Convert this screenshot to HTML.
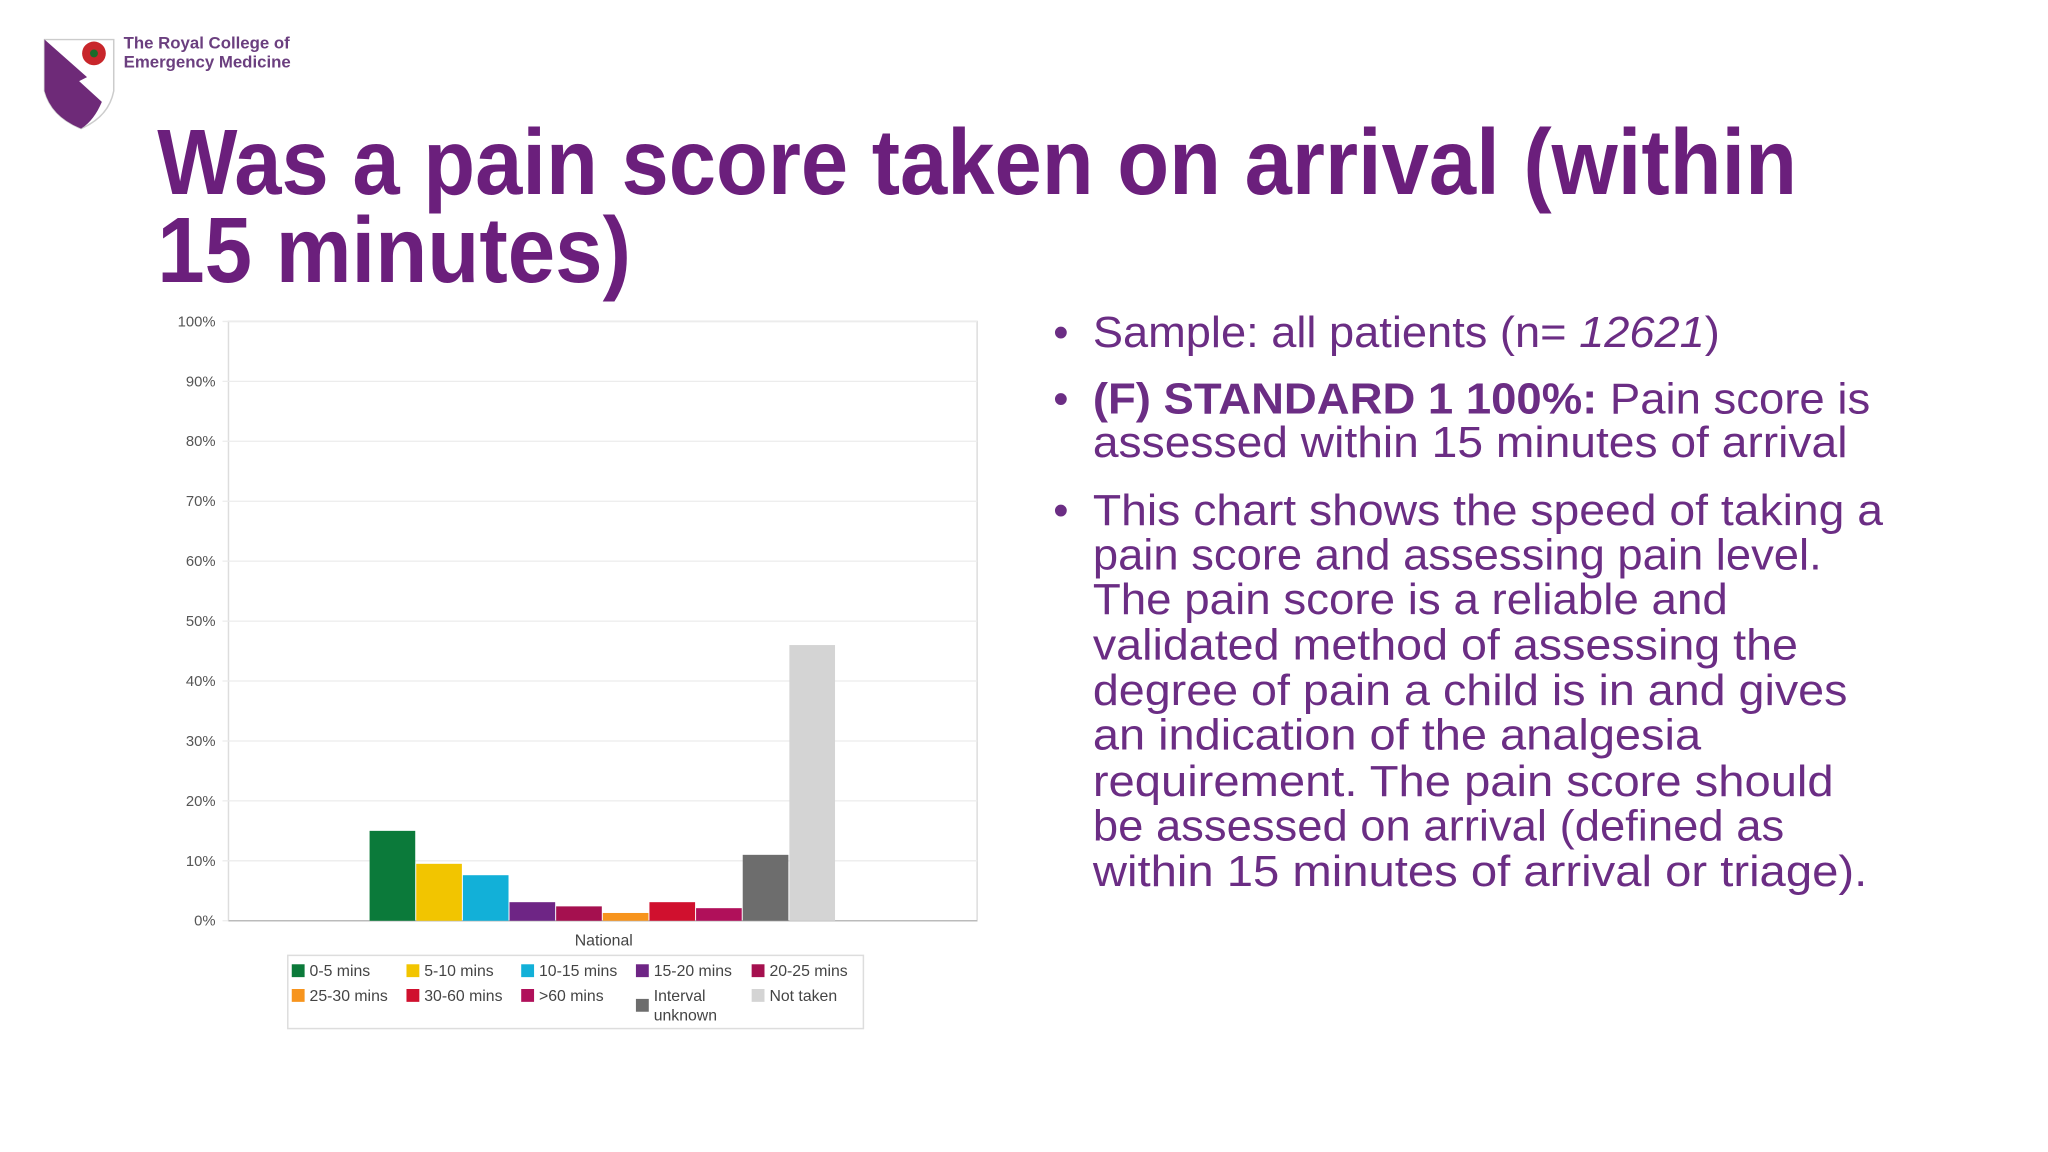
<!DOCTYPE html>
<html><head><meta charset="utf-8"><style>
html,body{margin:0;padding:0;background:#fff;}
svg{display:block;font-family:"Liberation Sans",sans-serif;}
</style></head><body>
<svg id="s" width="2048" height="1152" viewBox="0 0 2048 1152" xmlns="http://www.w3.org/2000/svg">
<g transform="scale(0.989)">
<g>
<path d="M45 40 L115 40 L115 92 Q110 118 82 130 Q52 118 45 92 Z" fill="#fff" stroke="#ccc" stroke-width="1.5"/>
<path d="M45 40 L88 78 L80 82 L103 103 Q95 122 82 130 Q52 118 45 92 Z" fill="#6e2a78"/>
<circle cx="95" cy="54" r="12" fill="#c8262b"/><circle cx="95" cy="54" r="4" fill="#1a6b2a"/>
<text x="125" y="49" font-size="17" font-weight="bold" fill="#6b3f7f">The Royal College of</text>
<text x="125" y="68" font-size="17" font-weight="bold" fill="#6b3f7f">Emergency Medicine</text>
</g>
<g fill="#6b1f7c" font-weight="bold" font-size="94">
<text x="159" y="196" textLength="1658" lengthAdjust="spacingAndGlyphs">Was a pain score taken on arrival (within</text>
<text x="159" y="285" textLength="479" lengthAdjust="spacingAndGlyphs">15 minutes)</text>
</g>
<g fill="#6b2d84" font-size="44">
<text x="1065" y="351">•</text><text x="1065" y="418">•</text><text x="1065" y="531">•</text>
<text x="1105" y="351" textLength="634" lengthAdjust="spacingAndGlyphs">Sample: all patients (n= <tspan font-style="italic">12621</tspan>)</text>
<text x="1105" y="418" textLength="786" lengthAdjust="spacingAndGlyphs"><tspan font-weight="bold">(F) STANDARD 1 100%:</tspan> Pain score is</text>
<text x="1105" y="462" textLength="763" lengthAdjust="spacingAndGlyphs">assessed within 15 minutes of arrival</text>
<text x="1105" y="531" textLength="799" lengthAdjust="spacingAndGlyphs">This chart shows the speed of taking a</text>
<text x="1105" y="576" textLength="737" lengthAdjust="spacingAndGlyphs">pain score and assessing pain level.</text>
<text x="1105" y="621" textLength="642" lengthAdjust="spacingAndGlyphs">The pain score is a reliable and</text>
<text x="1105" y="667" textLength="713" lengthAdjust="spacingAndGlyphs">validated method of assessing the</text>
<text x="1105" y="713" textLength="763" lengthAdjust="spacingAndGlyphs">degree of pain a child is in and gives</text>
<text x="1105" y="758" textLength="615" lengthAdjust="spacingAndGlyphs">an indication of the analgesia</text>
<text x="1105" y="805" textLength="749" lengthAdjust="spacingAndGlyphs">requirement.  The pain score should</text>
<text x="1105" y="850" textLength="699" lengthAdjust="spacingAndGlyphs">be assessed on arrival (defined as</text>
<text x="1105" y="896" textLength="783" lengthAdjust="spacingAndGlyphs">within 15 minutes of arrival or triage).</text>
</g>
<g id="chart"></g>
</g>
</svg>
<script>
const categories = ["0-5 mins","5-10 mins","10-15 mins","15-20 mins","20-25 mins","25-30 mins","30-60 mins",">60 mins","Interval unknown","Not taken"];
const values = [15, 9.5, 7.6, 3.1, 2.4, 1.3, 3.1, 2.1, 11, 46];
const colors = ["#0b7a3a","#f2c500","#12b0d8","#6e2585","#a5104f","#f7941d","#d0102e","#b0105a","#6d6d6d","#d4d4d4"];
const tickLabels = ["0%","10%","20%","30%","40%","50%","60%","70%","80%","90%","100%"];
const tickValues = [0,10,20,30,40,50,60,70,80,90,100];
const NS="http://www.w3.org/2000/svg";
const g=document.getElementById('chart');
const X0=231,X1=988,Y0=931,Y1=325;
const y=v=>Y0-(v/100)*(Y0-Y1);
function mk(t,a,txt){const e=document.createElementNS(NS,t);for(const k in a)e.setAttribute(k,a[k]);if(txt!=null)e.textContent=txt;g.appendChild(e);return e;}
const frame=mk('rect',{x:X0,y:Y1,width:X1-X0,height:Y0-Y1,fill:'#fff',stroke:'#ddd','stroke-width':1.5});


tickValues.forEach((t,i)=>{
  const l=mk('line',{x1:X0-6,x2:X1,y1:y(t),y2:y(t),stroke:'#ececec','stroke-width':1.3});
  
  
  const tx=mk('text',{x:218,y:y(t)+5,'font-size':15,fill:'#555','text-anchor':'end'},tickLabels[i]);
  
  
});
mk('line',{x1:X0,x2:X1,y1:Y0,y2:Y0,stroke:'#bbb','stroke-width':1.5});
const n=categories.length, groupW=(X1-X0)*0.623, bw=groupW/n, gx=(X0+X1)/2-groupW/2;
values.forEach((v,i)=>{
  const r=mk('rect',{x:gx+i*bw,y:y(v),width:bw-1,height:Y0-y(v),fill:colors[i]});
  
  
});
const xl=mk('text',{x:(X0+X1)/2+1,y:956,'font-size':16,fill:'#444','text-anchor':'middle'},'National');


const lb=mk('rect',{x:291,y:966,width:582,height:74,fill:'#fff',stroke:'#ddd','stroke-width':1.5});


const colX=[295,411,527,643,760];
categories.forEach((c,i)=>{
  const col=i%5,row=Math.floor(i/5);
  const sx=colX[col], sy=row?1000:975;
  const swY = (c==="Interval unknown")? sy+10 : sy;
  mk('rect',{x:sx,y:swY,width:13,height:13,fill:colors[i]});
  const lines=c==="Interval unknown"?["Interval","unknown"]:[c];
  lines.forEach((t,k)=>{
    const tx=mk('text',{x:sx+18,y:sy+12+k*20,'font-size':16,fill:'#444'},t);
    
    
  });
});
</script>
</body></html>
